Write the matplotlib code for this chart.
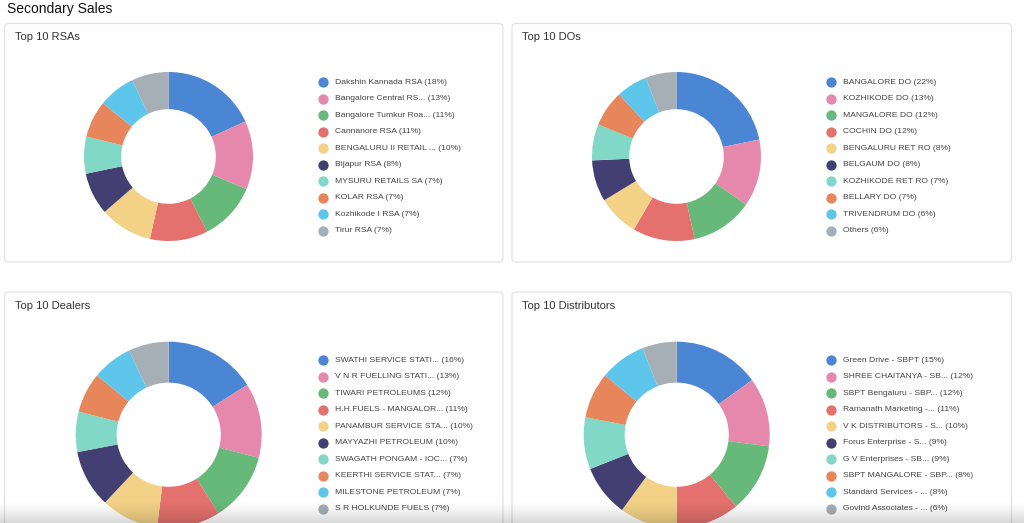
import numpy as np
import matplotlib
matplotlib.use("Agg")
import matplotlib.pyplot as plt
from matplotlib.patches import FancyBboxPatch

plt.rcParams['font.family'] = ['Liberation Sans', 'DejaVu Sans']

# palette shared by all four donuts
palette = ['#4a86d3', '#e688ab', '#66b979', '#e4716d', '#f3d287',
           '#433f72', '#81d8c6', '#e8865b', '#5ec6ea', '#a6aeb6']

rsa_names = ['Dakshin Kannada RSA', 'Bangalore Central RS...', 'Bangalore Tumkur Roa...',
             'Cannanore RSA', 'BENGALURU II RETAIL ...', 'Bijapur RSA',
             'MYSURU RETAILS SA', 'KOLAR RSA', 'Kozhikode I RSA', 'Tirur RSA']
rsa_pct = [18, 13, 11, 11, 10, 8, 7, 7, 7, 7]

do_names = ['BANGALORE DO', 'KOZHIKODE DO', 'MANGALORE DO', 'COCHIN DO',
            'BENGALURU RET RO', 'BELGAUM DO', 'KOZHIKODE RET RO', 'BELLARY DO',
            'TRIVENDRUM DO', 'Others']
do_pct = [22, 13, 12, 12, 8, 8, 7, 7, 6, 6]

dealer_names = ['SWATHI SERVICE STATI...', 'V N R FUELLING STATI...', 'TIWARI PETROLEUMS',
                'H.H.FUELS - MANGALOR...', 'PANAMBUR SERVICE STA...', 'MAYYAZHI PETROLEUM',
                'SWAGATH PONGAM - IOC...', 'KEERTHI SERVICE STAT...', 'MILESTONE PETROLEUM',
                'S R HOLKUNDE FUELS']
dealer_pct = [16, 13, 12, 11, 10, 10, 7, 7, 7, 7]

dist_names = ['Green Drive - SBPT', 'SHREE CHAITANYA - SB...', 'SBPT Bengaluru - SBP...',
              'Ramanath Marketing -...', 'V K DISTRIBUTORS - S...', 'Forus Enterprise - S...',
              'G V Enterprises - SB...', 'SBPT MANGALORE - SBP...', 'Standard Services - ...',
              'Govind Associates - ...']
dist_pct = [15, 12, 12, 11, 10, 9, 9, 8, 8, 6]

W, H = 1024, 523
fig = plt.figure(figsize=(W / 100, H / 100), dpi=100)
fig.patch.set_facecolor('white')

bg = fig.add_axes([0, 0, 1, 1])
bg.set_xlim(0, W)
bg.set_ylim(H, 0)
bg.axis('off')

bg.text(7, 9, 'Secondary Sales', fontsize=10, color='#111111', va='center', ha='left')

# card: (x0, y0, x1, y1, title, names, pct, donut center, radius, legend x, first row y)
cards = [
    (4.5, 23.5, 503, 262, 'Top 10 RSAs', rsa_names, rsa_pct, (168.5, 156.5), 84.5, 323, 82.3),
    (512, 23.5, 1011.5, 262, 'Top 10 DOs', do_names, do_pct, (676.5, 156.5), 84.5, 831.3, 82.3),
    (4.5, 292, 503, 560, 'Top 10 Dealers', dealer_names, dealer_pct, (168.7, 434.7), 93, 323, 360.3),
    (512, 292, 1011.5, 560, 'Top 10 Distributors', dist_names, dist_pct, (676.7, 434.7), 93, 831.3, 360.3),
]

for x0, y0, x1, y1, title, names, pct, (cx, cy), r, lx, ly in cards:
    box = FancyBboxPatch((x0, y0), x1 - x0, y1 - y0,
                         boxstyle='round,pad=0,rounding_size=4',
                         facecolor='white', edgecolor='#e3e3e3', linewidth=0.9)
    bg.add_patch(box)
    bg.text(x0 + 10.5, y0 + 14, title, fontsize=8, color='#333333', va='center', ha='left')

    ax = fig.add_axes([(cx - r) / W, (H - cy - r) / H, 2 * r / W, 2 * r / H])
    ax.pie(pct, colors=palette, startangle=90, counterclock=False,
           wedgeprops=dict(width=0.44, linewidth=0))
    ax.set_xlim(-1, 1)
    ax.set_ylim(-1, 1)
    ax.set_aspect('equal')
    ax.axis('off')

    for i, (n, p) in enumerate(zip(names, pct)):
        yy = ly + i * 16.5
        bg.scatter([lx], [yy], s=55, color=palette[i], linewidths=0)
        bg.text(lx + 12, yy, f'{n} ({p}%)', fontsize=6.1, color='#444444',
                va='center', ha='left')

# soft shadow along the bottom edge
ov = fig.add_axes([0, 0, 1, 1], zorder=10)
ov.axis('off')
ov.patch.set_visible(False)
grad = np.zeros((40, 2, 4))
grad[:, :, 3] = 0.16 * np.linspace(0, 1, 40)[:, None] ** 1.6
ov.imshow(grad, extent=[0, W, H, 498], aspect='auto', interpolation='bilinear')
ov.set_xlim(0, W)
ov.set_ylim(H, 0)

fig.savefig('out.png', dpi=100, facecolor='white')
